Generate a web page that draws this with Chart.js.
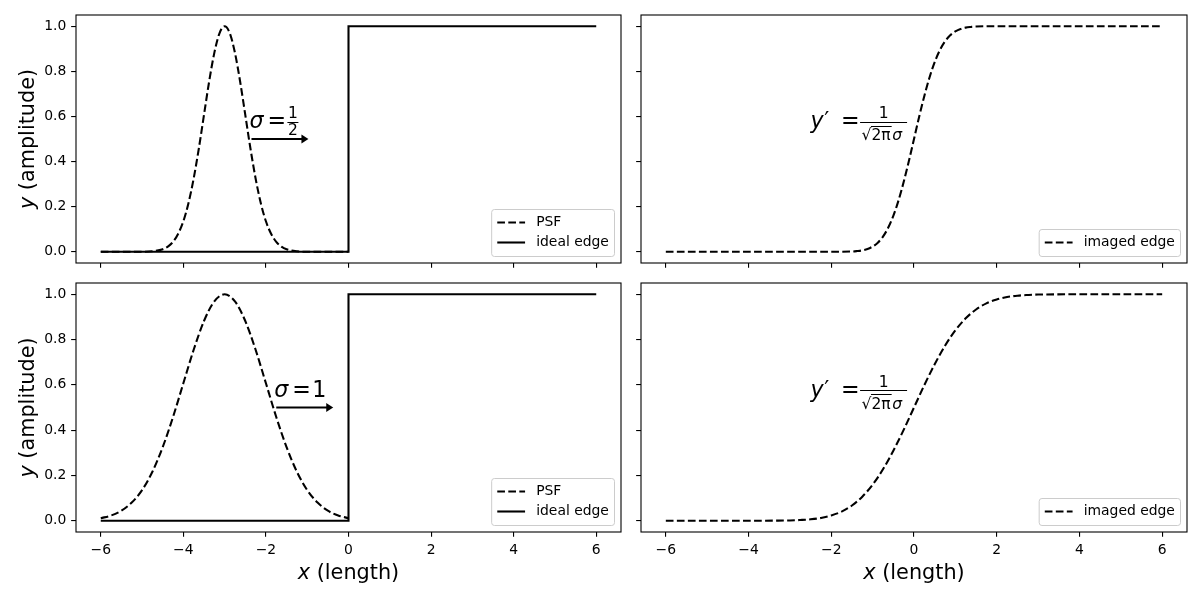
<!DOCTYPE html>
<html>
<head>
<meta charset="utf-8">
<script src="https://cdn.jsdelivr.net/npm/chart.js@4.4.1/dist/chart.umd.min.js"></script>
<style>
  html, body { margin: 0; padding: 0; background: #fff; }
  #wrap { position: relative; width: 1200px; height: 600px; }
  #wrap canvas { position: absolute; left: 0; top: 0; }
</style>
</head>
<body>
<div id="wrap">
  <canvas id="chart1" width="1200" height="600"></canvas>
  <canvas id="chart2" width="1200" height="600"></canvas>
  <canvas id="chart3" width="1200" height="600"></canvas>
  <canvas id="chart4" width="1200" height="600"></canvas>
</div>
<script>
// values
var xTickValues = [-6, -4, -2, 0, 2, 4, 6];
var yTickValues = [0.0, 0.2, 0.4, 0.6, 0.8, 1.0];

// PSF, sigma = 1/2 (top left)
var psfNarrowX = [-6, -5, -4.75, -4.5, -4.375, -4.25, -4.125, -4, -3.875, -3.75, -3.625, -3.5, -3.375, -3.25, -3.125, -3,
                  -2.875, -2.75, -2.625, -2.5, -2.375, -2.25, -2.125, -2, -1.875, -1.75, -1.625, -1.5, -1.25, -1, 0];
var psfNarrowY = [0, 0.000, 0.002, 0.011, 0.023, 0.044, 0.080, 0.135, 0.216, 0.325, 0.458, 0.607, 0.755, 0.882, 0.969, 1.000,
                  0.969, 0.882, 0.755, 0.607, 0.458, 0.325, 0.216, 0.135, 0.080, 0.044, 0.023, 0.011, 0.002, 0.000, 0];

// PSF, sigma = 1 (bottom left)
var psfWideX = [-6, -5.75, -5.5, -5.25, -5, -4.75, -4.5, -4.25, -4, -3.75, -3.5, -3.25, -3,
                -2.75, -2.5, -2.25, -2, -1.75, -1.5, -1.25, -1, -0.75, -0.5, -0.25, 0];
var psfWideY = [0.011, 0.023, 0.044, 0.080, 0.135, 0.216, 0.325, 0.458, 0.607, 0.755, 0.882, 0.969, 1.000,
                0.969, 0.882, 0.755, 0.607, 0.458, 0.325, 0.216, 0.135, 0.080, 0.044, 0.023, 0.011];

// ideal edge (both left panels)
var edgeX = [-6, 0, 0, 6];
var edgeY = [0, 0, 1, 1];

// imaged edge, sigma = 1/2 (top right)
var imagedNarrowX = [-6, -2, -1.5, -1.375, -1.25, -1.125, -1, -0.875, -0.75, -0.625, -0.5, -0.375, -0.25, -0.125, 0,
                     0.125, 0.25, 0.375, 0.5, 0.625, 0.75, 0.875, 1, 1.125, 1.25, 1.375, 1.5, 2, 6];
var imagedNarrowY = [0, 0, 0.001, 0.003, 0.006, 0.012, 0.023, 0.040, 0.067, 0.106, 0.159, 0.227, 0.309, 0.401, 0.5,
                     0.599, 0.691, 0.773, 0.841, 0.894, 0.933, 0.960, 0.977, 0.988, 0.994, 0.997, 0.999, 1, 1];

// imaged edge, sigma = 1 (bottom right)
var imagedWideX = [-6, -4, -3, -2.75, -2.5, -2.25, -2, -1.75, -1.5, -1.25, -1, -0.75, -0.5, -0.25, 0,
                   0.25, 0.5, 0.75, 1, 1.25, 1.5, 1.75, 2, 2.25, 2.5, 2.75, 3, 4, 6];
var imagedWideY = [0, 0, 0.001, 0.003, 0.006, 0.012, 0.023, 0.040, 0.067, 0.106, 0.159, 0.227, 0.309, 0.401, 0.5,
                   0.599, 0.691, 0.773, 0.841, 0.894, 0.933, 0.960, 0.977, 0.988, 0.994, 0.997, 0.999, 1, 1];

var xMin = -6.6, xMax = 6.6, yMin = -0.05, yMax = 1.05;
var FONT = '"DejaVu Sans"';
var dashed = [7.7, 3.33];

function pts(xs, ys) {
  return xs.map(function (x, i) { return { x: x, y: ys[i] }; });
}

function fmtX(v) { return v < 0 ? '\u2212' + (-v) : String(v); }

function line(label, xs, ys, dash, smooth) {
  return {
    label: label,
    data: pts(xs, ys),
    borderColor: '#000',
    borderWidth: 2.08,
    borderDash: dash ? dashed : [],
    borderCapStyle: 'butt',
    pointRadius: 0,
    fill: false,
    tension: 0,
    cubicInterpolationMode: smooth ? 'monotone' : 'default'
  };
}

// per panel: place of the axes box and what goes in it
var panels = {
  chart1: { box: [76, 15, 621, 263], legend: [['PSF', true], ['ideal edge', false]], xLabels: false, yLabels: true,
            note: 'sigmaHalf', noteX: -2.4, arrow: [-2.35, -0.97] },
  chart2: { box: [641, 15, 1187, 263], legend: [['imaged edge', true]], xLabels: false, yLabels: false,
            note: 'yprime', noteX: -2.5 },
  chart3: { box: [76, 283, 621, 532], legend: [['PSF', true], ['ideal edge', false]], xLabels: true, yLabels: true,
            note: 'sigmaOne', noteX: -1.8, arrow: [-1.75, -0.37] },
  chart4: { box: [641, 283, 1187, 532], legend: [['imaged edge', true]], xLabels: true, yLabels: false,
            note: 'yprime', noteX: -2.5 }
};

function drawLegend(ctx, a, entries) {
  var fs = 13.9;
  ctx.font = fs + 'px ' + FONT;
  var tw = 0;
  entries.forEach(function (e) { tw = Math.max(tw, ctx.measureText(e[0]).width); });
  var w = 5.6 + 27.8 + 11.1 + tw + 5.6;
  var h = 27 + 20 * (entries.length - 1);
  var right = a.right - 6.5, bottom = a.bottom - 6.5;
  var left = right - w, top = bottom - h;
  ctx.beginPath();
  ctx.roundRect(left, top, w, h, 2.8);
  ctx.fillStyle = 'rgba(255,255,255,0.8)';
  ctx.fill();
  ctx.strokeStyle = '#cccccc';
  ctx.lineWidth = 1;
  ctx.stroke();
  entries.forEach(function (e, i) {
    var cy = top + 13 + 20 * i;
    ctx.beginPath();
    ctx.setLineDash(e[1] ? dashed : []);
    ctx.lineCap = 'butt';
    ctx.strokeStyle = '#000';
    ctx.lineWidth = 2.08;
    ctx.moveTo(left + 5.6, cy);
    ctx.lineTo(left + 5.6 + 27.8, cy);
    ctx.stroke();
    ctx.setLineDash([]);
    ctx.fillStyle = '#000';
    ctx.textAlign = 'left';
    ctx.textBaseline = 'middle';
    ctx.fillText(e[0], left + 5.6 + 27.8 + 11.1, cy);
  });
}

function drawArrow(ctx, x1, x2, y) {
  ctx.strokeStyle = '#000';
  ctx.fillStyle = '#000';
  ctx.lineWidth = 1.8;
  ctx.beginPath();
  ctx.moveTo(x1, y);
  ctx.lineTo(x2 - 5, y);
  ctx.stroke();
  ctx.beginPath();
  ctx.moveTo(x2, y);
  ctx.lineTo(x2 - 7, y - 4.5);
  ctx.lineTo(x2 - 7, y + 4.5);
  ctx.closePath();
  ctx.fill();
}

function hbar(ctx, x1, x2, y) {
  var yy = Math.round(y) + 0.5;
  ctx.lineWidth = 1;
  ctx.beginPath();
  ctx.moveTo(x1, yy);
  ctx.lineTo(x2, yy);
  ctx.stroke();
}

function drawNote(ctx, kind, px, py) {
  var big = 22.2, small = 15.5;
  ctx.fillStyle = '#000';
  ctx.strokeStyle = '#000';
  ctx.textBaseline = 'alphabetic';
  ctx.textAlign = 'left';
  if (kind === 'sigmaHalf' || kind === 'sigmaOne') {
    ctx.font = 'italic ' + big + 'px ' + FONT;
    ctx.fillText('\u03c3', px, py - 11);
    ctx.font = big + 'px ' + FONT;
    ctx.fillText('=', px + 18, py - 11);
    if (kind === 'sigmaOne') {
      ctx.fillText('1', px + 38, py - 11);
    } else {
      ctx.font = small + 'px ' + FONT;
      ctx.textAlign = 'center';
      ctx.fillText('1', px + 43.5, py - 21);
      ctx.fillText('2', px + 43.5, py - 4);
      hbar(ctx, px + 38, px + 49, py - 17);
    }
  } else if (kind === 'yprime') {
    ctx.font = 'italic ' + big + 'px ' + FONT;
    ctx.fillText('y', px, py - 11);
    var wy = ctx.measureText('y').width;
    ctx.font = big + 'px ' + FONT;
    ctx.fillText('\u2032', px + wy + 0.5, py - 11);
    ctx.fillText('=', px + 30.5, py - 11);
    // fraction 1 / (sqrt(2 pi) sigma)
    var bx1 = px + 49.5, bx2 = px + 96.5;
    hbar(ctx, bx1, bx2, py - 17.5);
    ctx.font = small + 'px ' + FONT;
    ctx.textAlign = 'center';
    ctx.fillText('1', (bx1 + bx2) / 2, py - 21);
    ctx.textAlign = 'left';
    var dx = bx1 + 1.5, base = py + 1;
    ctx.fillText('\u221a', dx, base);
    var rw = ctx.measureText('\u221a').width;
    var x0 = dx + rw;
    var w2 = ctx.measureText('2\u03c0').width;
    ctx.fillText('2\u03c0', x0, base);
    hbar(ctx, x0 - 0.5, x0 + w2 + 1, py - 13.5);
    ctx.font = 'italic ' + small + 'px ' + FONT;
    ctx.fillText('\u03c3', x0 + w2 + 1.5, base);
  }
}

var decor = {
  id: 'decor',
  afterDraw: function (chart) {
    var p = panels[chart.canvas.id];
    var ctx = chart.ctx, a = chart.chartArea, xs = chart.scales.x, ys = chart.scales.y;
    ctx.save();
    ctx.setLineDash([]);
    ctx.strokeStyle = '#000';
    ctx.lineWidth = 1.1;
    ctx.strokeRect(a.left, a.top, a.right - a.left, a.bottom - a.top);

    var py = ys.getPixelForValue(0.5);
    drawNote(ctx, p.note, xs.getPixelForValue(p.noteX), py);
    if (p.arrow) drawArrow(ctx, xs.getPixelForValue(p.arrow[0]), xs.getPixelForValue(p.arrow[1]), py);

    drawLegend(ctx, a, p.legend);

    ctx.fillStyle = '#000';
    ctx.textBaseline = 'alphabetic';
    var fs = 20.8;
    if (p.yLabels) {
      ctx.save();
      ctx.translate(34, (a.top + a.bottom) / 2);
      ctx.rotate(-Math.PI / 2);
      ctx.font = 'italic ' + fs + 'px ' + FONT;
      var w1 = ctx.measureText('y').width;
      ctx.font = fs + 'px ' + FONT;
      var w2 = ctx.measureText(' (amplitude)').width;
      ctx.textAlign = 'left';
      ctx.font = 'italic ' + fs + 'px ' + FONT;
      ctx.fillText('y', -(w1 + w2) / 2, 0);
      ctx.font = fs + 'px ' + FONT;
      ctx.fillText(' (amplitude)', -(w1 + w2) / 2 + w1, 0);
      ctx.restore();
    }
    if (p.xLabels) {
      var cx = (a.left + a.right) / 2;
      ctx.font = 'italic ' + fs + 'px ' + FONT;
      var v1 = ctx.measureText('x').width;
      ctx.font = fs + 'px ' + FONT;
      var v2 = ctx.measureText(' (length)').width;
      ctx.textAlign = 'left';
      ctx.font = 'italic ' + fs + 'px ' + FONT;
      ctx.fillText('x', cx - (v1 + v2) / 2, 579);
      ctx.font = fs + 'px ' + FONT;
      ctx.fillText(' (length)', cx - (v1 + v2) / 2 + v1, 579);
    }
    ctx.restore();
  }
};

function panel(id, datasets) {
  var p = panels[id];
  var tickFont = { family: 'DejaVu Sans', size: 13.9 };
  var grid = { display: true, drawOnChartArea: false, drawTicks: true, tickLength: 4.86, color: '#000', lineWidth: 1.1 };
  return new Chart(document.getElementById(id).getContext('2d'), {
    type: 'line',
    data: { datasets: datasets },
    options: {
      responsive: false,
      animation: false,
      devicePixelRatio: 1,
      layout: { padding: { left: p.box[0] - 60, top: p.box[1], right: 1200 - p.box[2], bottom: 600 - p.box[3] - 40 } },
      plugins: { legend: { display: false }, tooltip: { enabled: false } },
      scales: {
        x: {
          type: 'linear', min: xMin, max: xMax,
          afterBuildTicks: function (axis) { axis.ticks = xTickValues.map(function (v) { return { value: v }; }); },
          afterFit: function (axis) { axis.height = 40; },
          ticks: { autoSkip: false, maxRotation: 0, padding: 4.86, color: '#000', font: tickFont,
                   callback: function (v) { return p.xLabels ? fmtX(v) : ''; } },
          grid: grid,
          border: { display: false }
        },
        y: {
          type: 'linear', min: yMin, max: yMax,
          afterBuildTicks: function (axis) { axis.ticks = yTickValues.map(function (v) { return { value: v }; }); },
          afterFit: function (axis) { axis.width = 60; },
          ticks: { autoSkip: false, padding: 4.86, color: '#000', font: tickFont,
                   callback: function (v) { return p.yLabels ? v.toFixed(1) : ''; } },
          grid: grid,
          border: { display: false }
        }
      }
    },
    plugins: [decor]
  });
}

panel('chart1', [line('PSF', psfNarrowX, psfNarrowY, true, true), line('ideal edge', edgeX, edgeY, false, false)]);
panel('chart2', [line('imaged edge', imagedNarrowX, imagedNarrowY, true, true)]);
panel('chart3', [line('PSF', psfWideX, psfWideY, true, true), line('ideal edge', edgeX, edgeY, false, false)]);
panel('chart4', [line('imaged edge', imagedWideX, imagedWideY, true, true)]);
</script>
</body>
</html>
